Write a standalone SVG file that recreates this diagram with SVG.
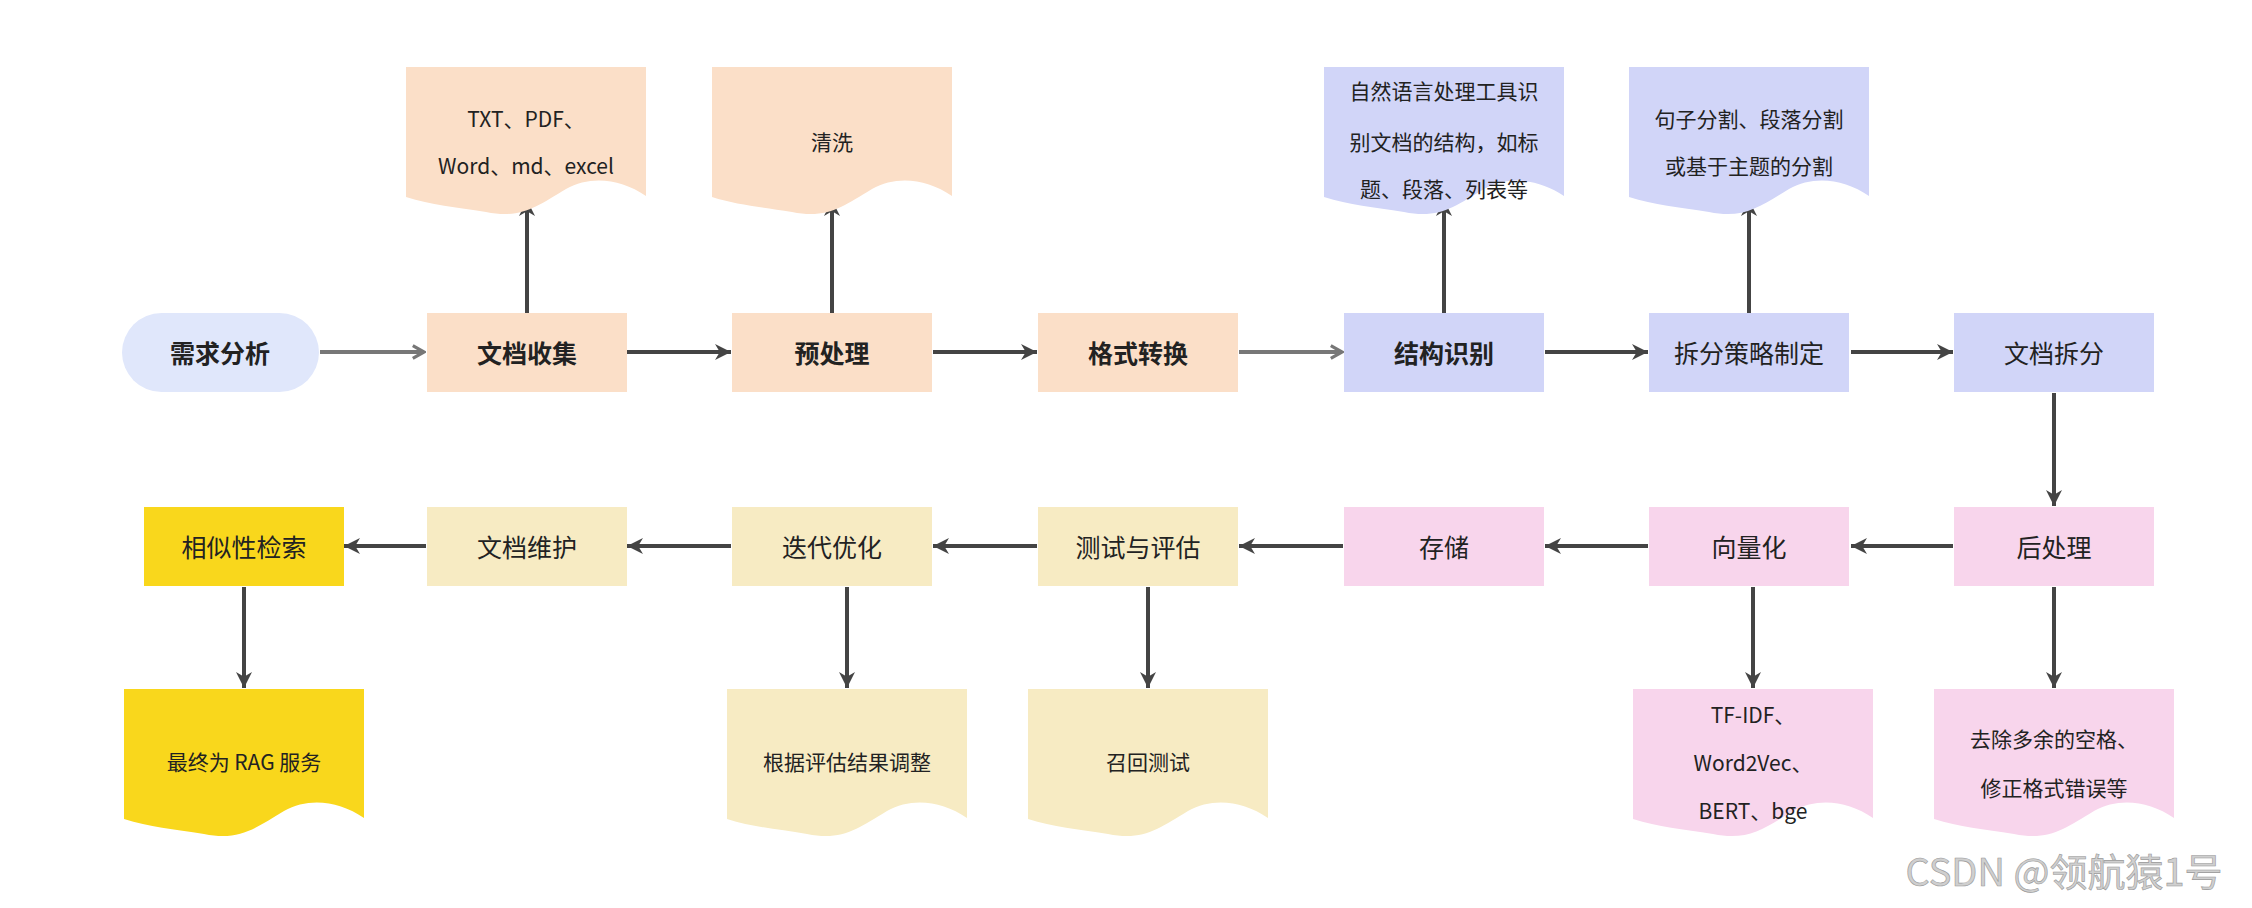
<svg xmlns="http://www.w3.org/2000/svg" width="2252" height="908" viewBox="0 0 2252 908">
<defs>
<style>
text{font-family:"Noto Sans CJK SC","Noto Sans",sans-serif;fill:#222;text-anchor:middle;dominant-baseline:central}
.b{font-size:25px;font-weight:bold}
.n{font-size:25px}
.d{font-size:21px}
.peach{fill:#fbdfc8}.lav{fill:#d1d5f8}.pink{fill:#f8d5ec}.cream{fill:#f7ebc3}.gold{fill:#f9d71c}
.c{stroke:#444;stroke-width:4;fill:none}
.g{stroke:#777;stroke-width:4;fill:none}
</style>
<marker id="a" viewBox="0 0 10 10" refX="10" refY="5" markerWidth="4" markerHeight="4" orient="auto" markerUnits="strokeWidth"><path d="M0,0 L10,5 L0,10 L3,5 Z" fill="#444"/></marker>
<marker id="ag" viewBox="0 0 10 10" refX="9" refY="5" markerWidth="4" markerHeight="4" orient="auto" markerUnits="strokeWidth"><path d="M2,1 L9,5 L2,9" fill="none" stroke="#777" stroke-width="2"/></marker>
<path id="doc" d="M0,0 H240 V129 C215,112 185,108 160,122 C130,140 115,152 80,145 C50,140 25,138 0,130 Z"/>
</defs>
<g id="connectors">
<line class="g" x1="320" y1="352" x2="424" y2="352" marker-end="url(#ag)"/>
<line class="c" x1="627" y1="352" x2="731" y2="352" marker-end="url(#a)"/>
<line class="c" x1="933" y1="352" x2="1037" y2="352" marker-end="url(#a)"/>
<line class="g" x1="1239" y1="352" x2="1342" y2="352" marker-end="url(#ag)"/>
<line class="c" x1="1545" y1="352" x2="1648" y2="352" marker-end="url(#a)"/>
<line class="c" x1="1851" y1="352" x2="1953" y2="352" marker-end="url(#a)"/>
<line class="c" x1="527" y1="313" x2="527" y2="200" marker-end="url(#a)"/>
<line class="c" x1="832" y1="313" x2="832" y2="200" marker-end="url(#a)"/>
<line class="c" x1="1444" y1="313" x2="1444" y2="200" marker-end="url(#a)"/>
<line class="c" x1="1749" y1="313" x2="1749" y2="200" marker-end="url(#a)"/>
<line class="c" x1="2054" y1="393" x2="2054" y2="506" marker-end="url(#a)"/>
<line class="c" x1="1953" y1="546" x2="1851" y2="546" marker-end="url(#a)"/>
<line class="c" x1="1648" y1="546" x2="1545" y2="546" marker-end="url(#a)"/>
<line class="c" x1="1343" y1="546" x2="1239" y2="546" marker-end="url(#a)"/>
<line class="c" x1="1037" y1="546" x2="933" y2="546" marker-end="url(#a)"/>
<line class="c" x1="731" y1="546" x2="627" y2="546" marker-end="url(#a)"/>
<line class="c" x1="426" y1="546" x2="344" y2="546" marker-end="url(#a)"/>
<line class="c" x1="244" y1="587" x2="244" y2="688" marker-end="url(#a)"/>
<line class="c" x1="847" y1="587" x2="847" y2="688" marker-end="url(#a)"/>
<line class="c" x1="1148" y1="587" x2="1148" y2="688" marker-end="url(#a)"/>
<line class="c" x1="1753" y1="587" x2="1753" y2="688" marker-end="url(#a)"/>
<line class="c" x1="2054" y1="587" x2="2054" y2="688" marker-end="url(#a)"/>
</g>
<g id="n1"><rect x="122" y="313" width="197" height="79" rx="39.5" fill="#e0e7fb"/><text class="b" x="220" y="352">需求分析</text></g>
<g id="n2"><rect class="peach" x="427" y="313" width="200" height="79"/><text class="b" x="527" y="352">文档收集</text></g>
<g id="n3"><rect class="peach" x="732" y="313" width="200" height="79"/><text class="b" x="832" y="352">预处理</text></g>
<g id="n4"><rect class="peach" x="1038" y="313" width="200" height="79"/><text class="b" x="1138" y="352">格式转换</text></g>
<g id="n5"><rect class="lav" x="1344" y="313" width="200" height="79"/><text class="b" x="1444" y="352">结构识别</text></g>
<g id="n6"><rect class="lav" x="1649" y="313" width="200" height="79"/><text class="n" x="1749" y="352">拆分策略制定</text></g>
<g id="n7"><rect class="lav" x="1954" y="313" width="200" height="79"/><text class="n" x="2054" y="352">文档拆分</text></g>
<g id="n8"><rect class="pink" x="1954" y="507" width="200" height="79"/><text class="n" x="2054" y="546">后处理</text></g>
<g id="n9"><rect class="pink" x="1649" y="507" width="200" height="79"/><text class="n" x="1749" y="546">向量化</text></g>
<g id="n10"><rect class="pink" x="1344" y="507" width="200" height="79"/><text class="n" x="1444" y="546">存储</text></g>
<g id="n11"><rect class="cream" x="1038" y="507" width="200" height="79"/><text class="n" x="1138" y="546">测试与评估</text></g>
<g id="n12"><rect class="cream" x="732" y="507" width="200" height="79"/><text class="n" x="832" y="546">迭代优化</text></g>
<g id="n13"><rect class="cream" x="427" y="507" width="200" height="79"/><text class="n" x="527" y="546">文档维护</text></g>
<g id="n14"><rect class="gold" x="144" y="507" width="200" height="79"/><text class="n" x="244" y="546">相似性检索</text></g>
<g id="d1"><use href="#doc" class="peach" x="406" y="67"/><text class="d" x="526" y="118">TXT、PDF、</text><text class="d" x="526" y="165">Word、md、excel</text></g>
<g id="d2"><use href="#doc" class="peach" x="712" y="67"/><text class="d" x="832" y="141">清洗</text></g>
<g id="d3"><use href="#doc" class="lav" x="1324" y="67"/><text class="d" x="1444" y="90">自然语言处理工具识</text><text class="d" x="1444" y="141">别文档的结构，如标</text><text class="d" x="1444" y="188">题、段落、列表等</text></g>
<g id="d4"><use href="#doc" class="lav" x="1629" y="67"/><text class="d" x="1749" y="118">句子分割、段落分割</text><text class="d" x="1749" y="165">或基于主题的分割</text></g>
<g id="d5"><use href="#doc" class="gold" x="124" y="689"/><text class="d" x="244" y="761">最终为 RAG 服务</text></g>
<g id="d6"><use href="#doc" class="cream" x="727" y="689"/><text class="d" x="847" y="761">根据评估结果调整</text></g>
<g id="d7"><use href="#doc" class="cream" x="1028" y="689"/><text class="d" x="1148" y="761">召回测试</text></g>
<g id="d8"><use href="#doc" class="pink" x="1633" y="689"/><text class="d" x="1753" y="714">TF-IDF、</text><text class="d" x="1753" y="762">Word2Vec、</text><text class="d" x="1753" y="810">BERT、bge</text></g>
<g id="d9"><use href="#doc" class="pink" x="1934" y="689"/><text class="d" x="2054" y="738">去除多余的空格、</text><text class="d" x="2054" y="787">修正格式错误等</text></g>
<text x="2064" y="869" style="font-size:38px;fill:#cfcfcf;stroke:#999;stroke-width:0.6">CSDN @领航猿1号</text>
</svg>
